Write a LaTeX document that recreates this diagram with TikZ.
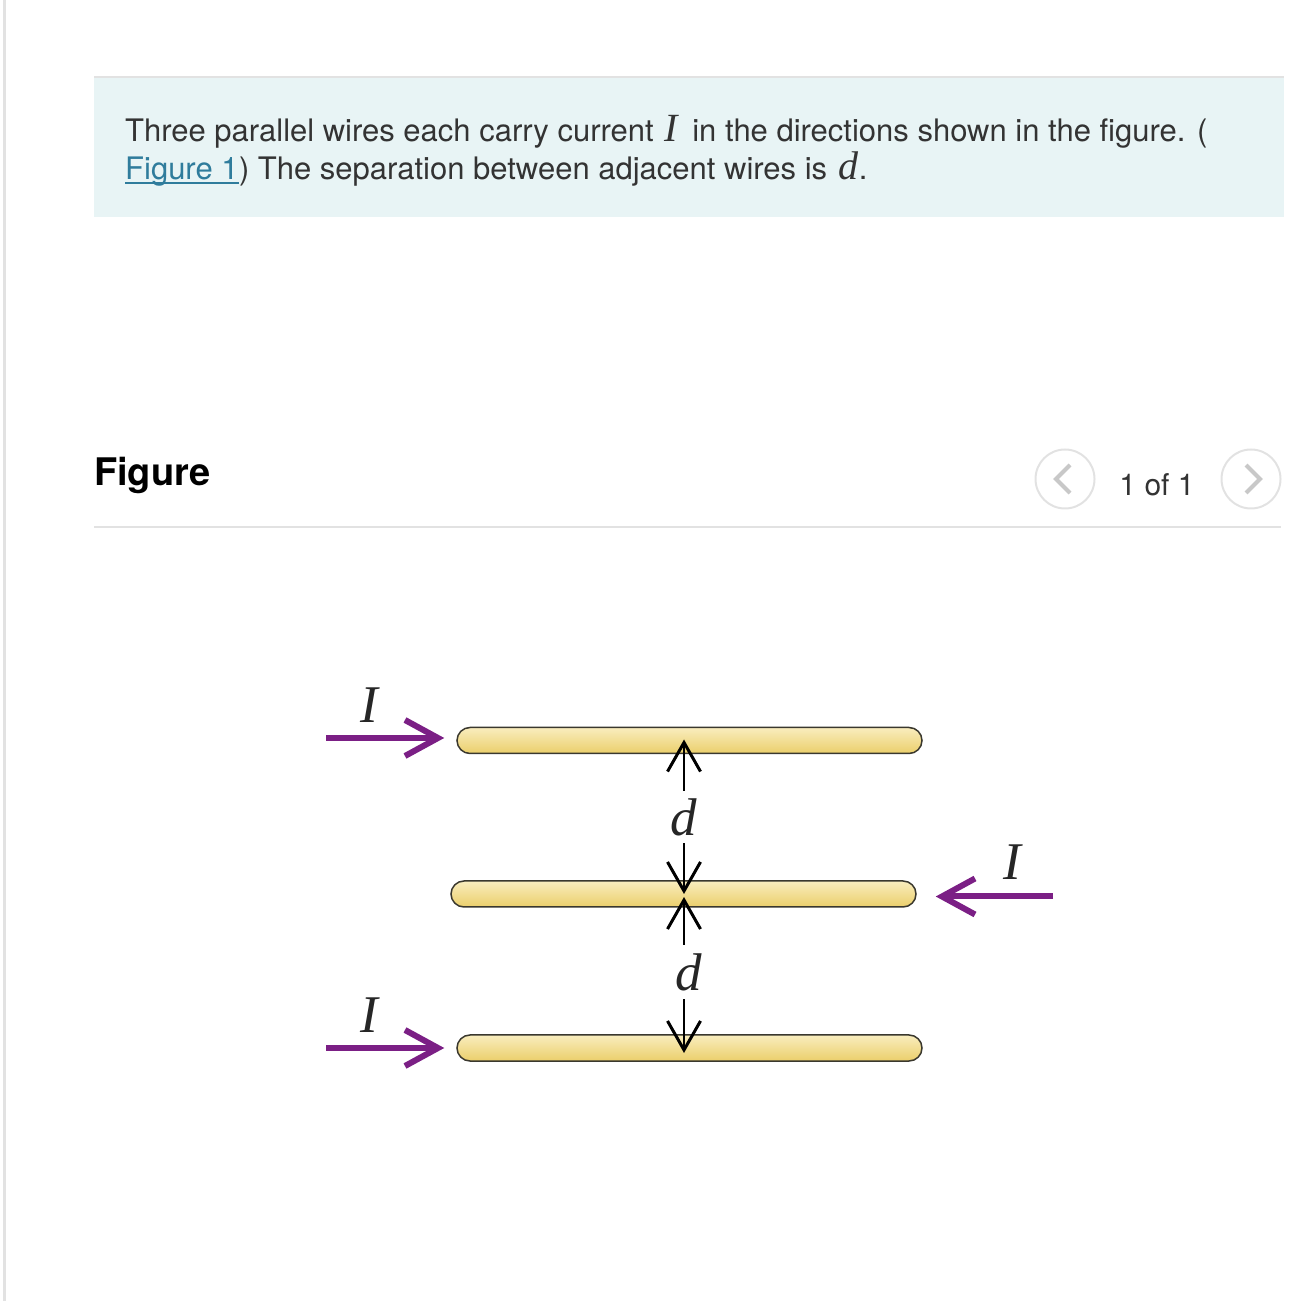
\documentclass[tikz,border=0pt]{standalone}
\usepackage{fontspec}
\setmainfont{TeX Gyre Heros}
\newfontfamily\labelfont{Liberation Serif}
\usepackage{tikz}
\usetikzlibrary{positioning,calc,arrows.meta}
\definecolor{panelcolor}{HTML}{E8F4F5}
\definecolor{rulecolor}{HTML}{E2E2E2}
\definecolor{textcolor}{HTML}{333333}
\definecolor{linkcolor}{HTML}{2F7C9C}
\definecolor{chevroncolor}{HTML}{C8C8C8}
\definecolor{currentcolor}{HTML}{7B1F85}
\definecolor{wireedge}{HTML}{3A382E}
\definecolor{wirelight}{HTML}{F9EDBE}
\definecolor{wirepale}{HTML}{FFF8DF}
\definecolor{wiredark}{HTML}{EBCF6B}
\newcommand{\panelvar}[1]{{\labelfont\itshape\fontsize{40}{38}\selectfont #1}}
\begin{document}
\begin{tikzpicture}[x=1pt,y=1pt]
                    \tikzstyle{wire}=[draw=wireedge,line width=1.5,rectangle,rounded corners=13,minimum height=26,minimum width=465,inner sep=0,top color=wirelight,middle color=wirepale,bottom color=wiredark]
                    \tikzstyle{bodytext}=[anchor=base west,inner sep=0,text=textcolor,font=\fontsize{31}{38}\selectfont]
                    \tikzstyle{symbol}=[inner sep=0,font=\labelfont\itshape\fontsize{53}{53}\selectfont,text=black!85]
                    \tikzstyle{currentarrow}=[draw=currentcolor,line width=6,-{Straight Barb[length=33,width=36,line width=6]}]
                    \tikzstyle{gaparrow}=[draw=black,line width=2.2,-{Straight Barb[length=29,width=33,line width=3]}]
                    \tikzstyle{pagerbutton}=[circle,draw=rulecolor,line width=2,minimum size=59,inner sep=0]
                    \tikzstyle{chevron}=[draw=chevroncolor,line width=4]
                    \useasboundingbox (0,0) rectangle (1308,1301);

                    \draw[draw=rulecolor,line width=3] (4,1301) -- (4,0);
                    \node[fill=panelcolor,minimum width=1190,minimum height=140,inner sep=0] (panel) at (689,1154) {};
                    \draw[draw=rulecolor,line width=2] (panel.north west) -- (panel.north east);
                    \node[bodytext] (line1) at (125,1159.5) {Three parallel wires each carry current\kern2pt{} \panelvar{I}\kern6pt{} in the directions shown in the figure. (};
                    \node[bodytext,text=linkcolor] (link) at (125,1121.5) {Figure 1};
                    \node[bodytext] (line2) at (link.base east) {) The separation between adjacent wires is\kern3pt{} \panelvar{d}.};
                    \draw[draw=linkcolor,line width=2] ($(link.base west)+(0,-4)$) -- ($(link.base east)+(0,-4)$);

                    \node[anchor=base west,inner sep=0,font=\bfseries\fontsize{38}{38}\selectfont] (figtitle) at (94,815) {Figure};
                    \node[anchor=base,inner sep=0,text=textcolor,font=\fontsize{30}{30}\selectfont] (pagecount) at (1157,805) {1 of 1};
                    \node[pagerbutton] (prev) at (1065,822) {};
                    \node[pagerbutton] (next) at (1251,822) {};
                    \draw[chevron] ($(prev)+(5,14)$) -- ($(prev)+(-9,0)$) -- ($(prev)+(5,-14)$);
                    \draw[chevron] ($(next)+(-5,14)$) -- ($(next)+(9,0)$) -- ($(next)+(-5,-14)$);
                    \draw[draw=rulecolor,line width=2] (94,774) -- (1281,774);

                    \node[wire] (wire1) at (689.5,560.5) {};
                    \node[wire] (wire2) at (683.5,407) {};
                    \node[wire] (wire3) at (689.5,253) {};

                    \node[symbol] (current1) at (369,596) {I};
                    \node[symbol] (current2) at (1012,439) {I};
                    \node[symbol] (current3) at (369,286) {I};
                    \coordinate (start1) at (326,563);
                    \coordinate (start2) at (1053,404.5);
                    \coordinate (start3) at (326,253);
                    \draw[currentarrow,shorten >=12] (start1) -- (start1 -| wire1.west);
                    \draw[currentarrow,shorten >=19] (start2) -- (start2 -| wire2.east);
                    \draw[currentarrow,shorten >=12] (start3) -- (start3 -| wire3.west);

                    \node[symbol,minimum height=52] (gap1) at (684,484) {d};
                    \node[symbol,minimum height=54] (gap2) at (689,329) {d};
                    \coordinate (tip1) at (684,561.5);
                    \coordinate (tip2) at (684,407);
                    \coordinate (tip3) at (684,404);
                    \coordinate (tip4) at (684,248);
                    \draw[gaparrow] (gap1.north -| tip1) -- (tip1);
                    \draw[gaparrow] (gap1.south -| tip2) -- (tip2);
                    \draw[gaparrow] (gap2.north -| tip3) -- (tip3);
                    \draw[gaparrow] (gap2.south -| tip4) -- (tip4);
                \end{tikzpicture}
\end{document}
